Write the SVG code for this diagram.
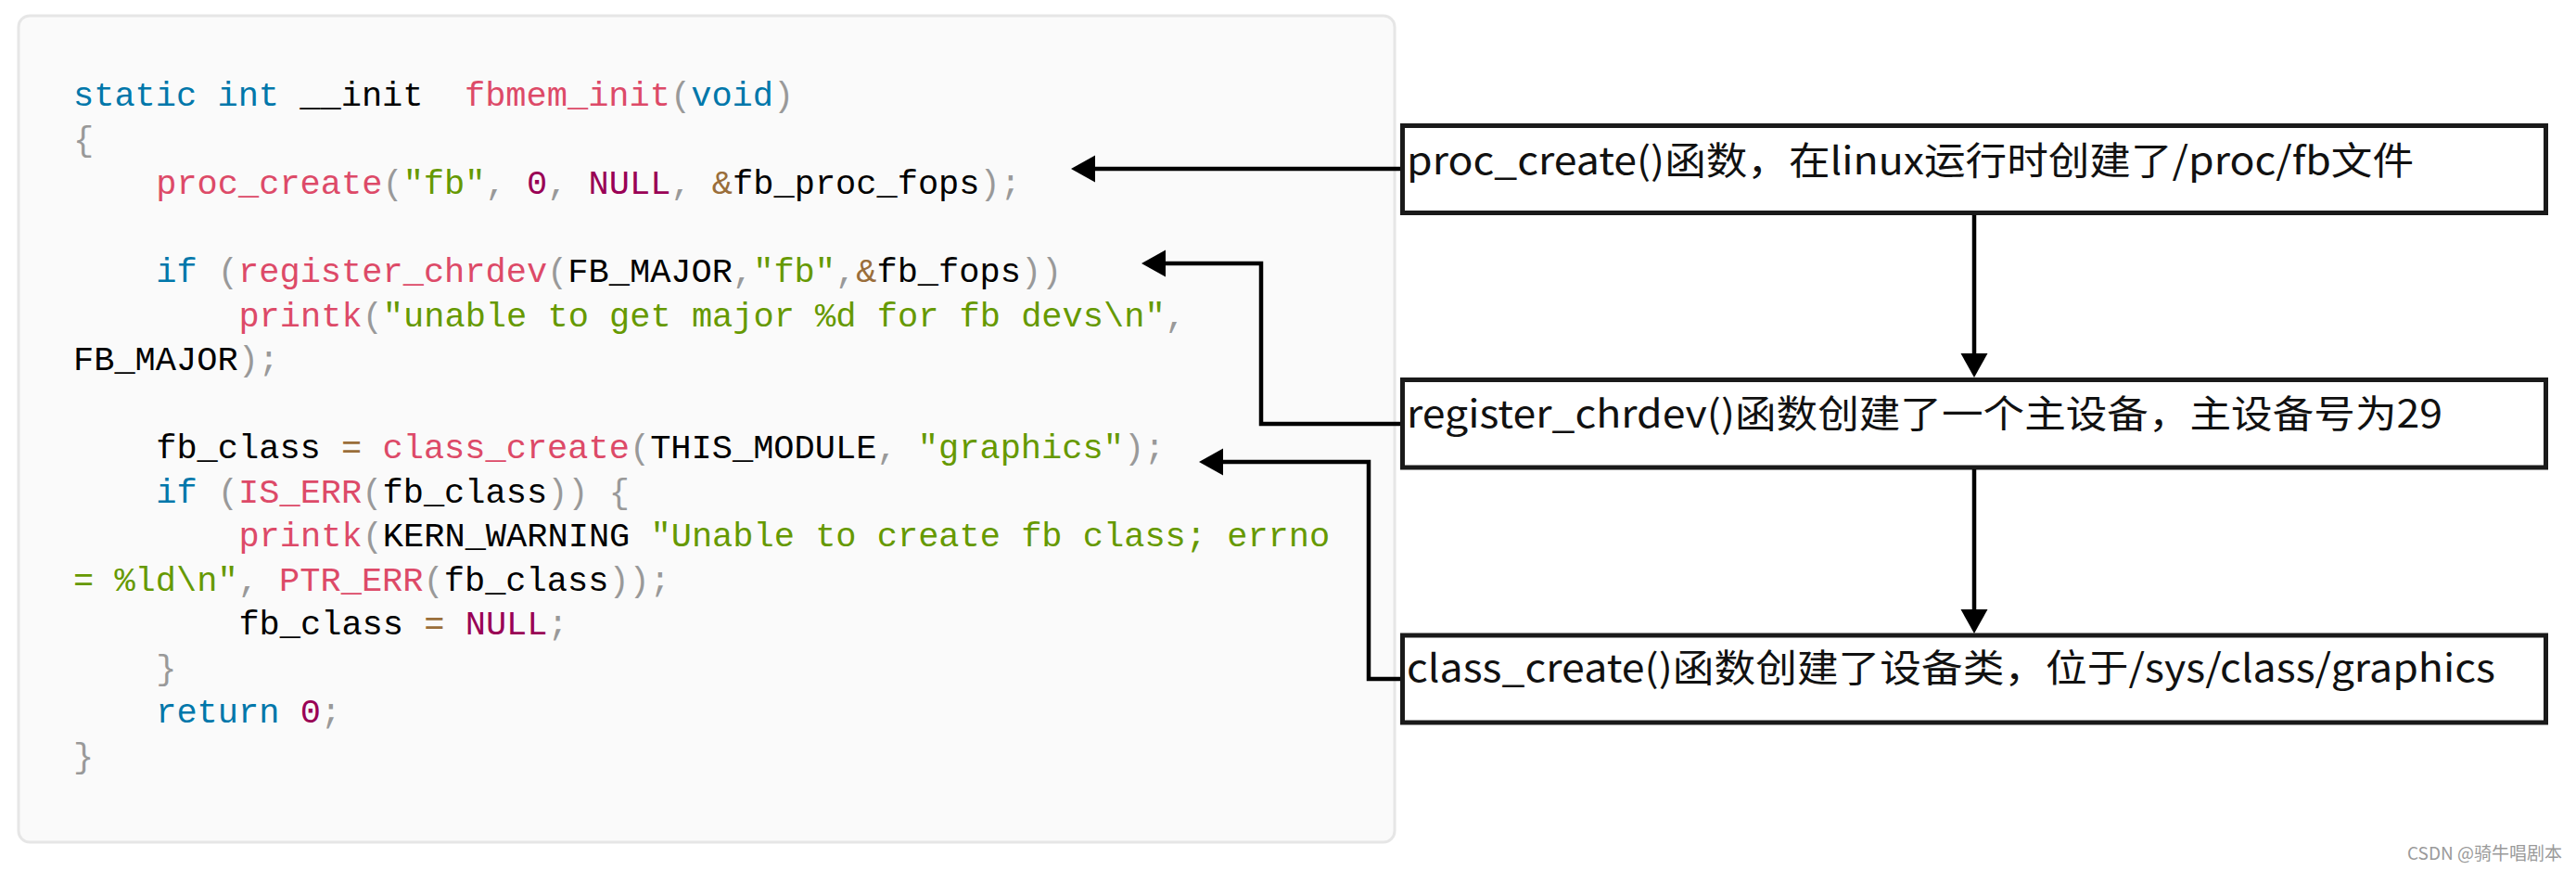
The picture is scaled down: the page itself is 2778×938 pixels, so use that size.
<svg xmlns="http://www.w3.org/2000/svg" width="2778" height="938" viewBox="0 0 2778 938">
<style>
.code{font-family:"Liberation Mono","DejaVu Sans Mono",monospace;font-size:37px;fill:#000;white-space:pre}
.kw{fill:#0077aa}.fn{fill:#dd4a68}.str{fill:#669900}.p{fill:#999999}.op{fill:#9a6e3a}.num{fill:#990055}
.box{fill:#ffffff;stroke:#1a1a1a;stroke-width:5}
.lbl{font-family:"Noto Sans CJK SC","Noto Sans",sans-serif;font-size:41px;fill:#111}
.conn{fill:none;stroke:#000;stroke-width:4.5}
</style>
<defs>
<marker id="ah" markerUnits="userSpaceOnUse" markerWidth="27" markerHeight="30" refX="0" refY="14.5" orient="auto" viewBox="0 0 27 30">
<path d="M0,0 L26,14.5 L0,29 z" fill="#000"/>
</marker>
</defs>
<rect width="2778" height="938" fill="#ffffff"/>
<g id="code-panel">
<rect x="20" y="17" width="1484" height="891" rx="12" fill="#fafafa" stroke="#e6e6e6" stroke-width="3"/>
<text class="code" xml:space="preserve" x="79" y="114"><tspan class="kw">static</tspan> <tspan class="kw">int</tspan> __init  <tspan class="fn">fbmem_init</tspan><tspan class="p">(</tspan><tspan class="kw">void</tspan><tspan class="p">)</tspan></text>
<text class="code" xml:space="preserve" x="79" y="161.5"><tspan class="p">{</tspan></text>
<text class="code" xml:space="preserve" x="168.2" y="209"><tspan class="fn">proc_create</tspan><tspan class="p">(</tspan><tspan class="str">"fb"</tspan><tspan class="p">,</tspan> <tspan class="num">0</tspan><tspan class="p">,</tspan> <tspan class="num">NULL</tspan><tspan class="p">,</tspan> <tspan class="op">&amp;</tspan>fb_proc_fops<tspan class="p">);</tspan></text>
<text class="code" xml:space="preserve" x="168.2" y="304"><tspan class="kw">if</tspan> <tspan class="p">(</tspan><tspan class="fn">register_chrdev</tspan><tspan class="p">(</tspan>FB_MAJOR<tspan class="p">,</tspan><tspan class="str">"fb"</tspan><tspan class="p">,</tspan><tspan class="op">&amp;</tspan>fb_fops<tspan class="p">))</tspan></text>
<text class="code" xml:space="preserve" x="257.4" y="351.5"><tspan class="fn">printk</tspan><tspan class="p">(</tspan><tspan class="str">"unable to get major %d for fb devs\n"</tspan><tspan class="p">,</tspan></text>
<text class="code" xml:space="preserve" x="79" y="399">FB_MAJOR<tspan class="p">);</tspan></text>
<text class="code" xml:space="preserve" x="168.2" y="494">fb_class <tspan class="op">=</tspan> <tspan class="fn">class_create</tspan><tspan class="p">(</tspan>THIS_MODULE<tspan class="p">,</tspan> <tspan class="str">"graphics"</tspan><tspan class="p">);</tspan></text>
<text class="code" xml:space="preserve" x="168.2" y="541.5"><tspan class="kw">if</tspan> <tspan class="p">(</tspan><tspan class="fn">IS_ERR</tspan><tspan class="p">(</tspan>fb_class<tspan class="p">))</tspan> <tspan class="p">{</tspan></text>
<text class="code" xml:space="preserve" x="257.4" y="589"><tspan class="fn">printk</tspan><tspan class="p">(</tspan>KERN_WARNING <tspan class="str">"Unable to create fb class; errno</tspan></text>
<text class="code" xml:space="preserve" x="79" y="636.5"><tspan class="str">= %ld\n"</tspan><tspan class="p">,</tspan> <tspan class="fn">PTR_ERR</tspan><tspan class="p">(</tspan>fb_class<tspan class="p">));</tspan></text>
<text class="code" xml:space="preserve" x="257.4" y="684">fb_class <tspan class="op">=</tspan> <tspan class="num">NULL</tspan><tspan class="p">;</tspan></text>
<text class="code" xml:space="preserve" x="168.2" y="731.5"><tspan class="p">}</tspan></text>
<text class="code" xml:space="preserve" x="168.2" y="779"><tspan class="kw">return</tspan> <tspan class="num">0</tspan><tspan class="p">;</tspan></text>
<text class="code" xml:space="preserve" x="79" y="826.5"><tspan class="p">}</tspan></text>
</g>
<g id="node-proc">
<rect class="box" x="1512.5" y="135.5" width="1233" height="94"/>
<text class="lbl" x="1517" y="188" textLength="1086" lengthAdjust="spacingAndGlyphs">proc_create()函数，在linux运行时创建了/proc/fb文件</text>
</g>
<g id="node-chrdev">
<rect class="box" x="1512.5" y="409.5" width="1233" height="94.5"/>
<text class="lbl" x="1517" y="461" textLength="1117" lengthAdjust="spacingAndGlyphs">register_chrdev()函数创建了一个主设备，主设备号为29</text>
</g>
<g id="node-class">
<rect class="box" x="1512.5" y="685" width="1233" height="94"/>
<text class="lbl" x="1517" y="735" textLength="1174" lengthAdjust="spacingAndGlyphs">class_create()函数创建了设备类，位于/sys/class/graphics</text>
</g>
<g id="connectors">
<path class="conn" d="M1510,182 H1181" marker-end="url(#ah)"/>
<path class="conn" d="M1510,457 H1360 V284 H1257" marker-end="url(#ah)"/>
<path class="conn" d="M1510,732 H1476 V498 H1319" marker-end="url(#ah)"/>
<path class="conn" d="M2129,232 V381" marker-end="url(#ah)"/>
<path class="conn" d="M2129,506 V657" marker-end="url(#ah)"/>
</g>
<text x="2763" y="927" text-anchor="end" font-family="Noto Sans CJK SC, Noto Sans, sans-serif" font-size="19" fill="#9a9a9a">CSDN @骑牛唱剧本</text>
</svg>
